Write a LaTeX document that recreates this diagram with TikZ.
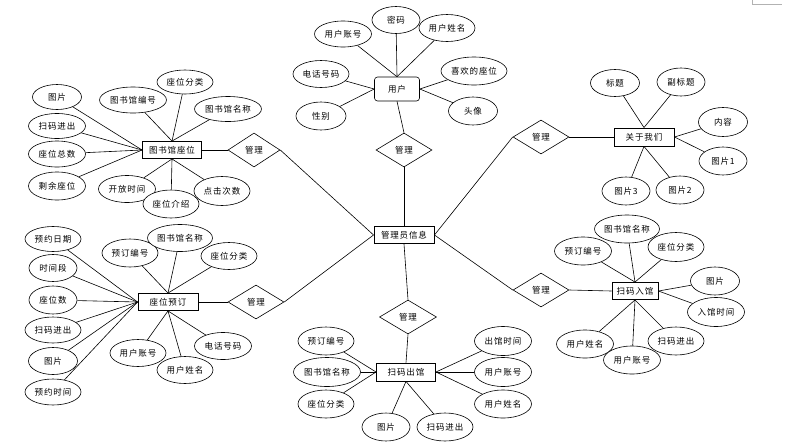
\documentclass[tikz,border=0pt]{standalone}
\usepackage{fontspec}
\newfontfamily\cjk[LetterSpace=10]{Noto Sans CJK SC}
\usetikzlibrary{shapes.geometric}
\begin{document}
\begin{tikzpicture}[x=1pt,y=-1pt,
  every node/.style={font=\cjk\fontsize{8.5}{10}\selectfont, text=black},
  ent/.style={draw, fill=white, line width=0.9pt, minimum width=59pt, minimum height=17pt, inner sep=0pt},
  attr/.style={draw, fill=white, ellipse, line width=0.6pt, minimum width=56pt, minimum height=27pt, inner sep=0pt},
  rel/.style={draw, fill=white, diamond, line width=0.6pt, minimum width=56pt, minimum height=34pt, inner sep=0pt},
  conn/.style={line width=0.6pt}]
\useasboundingbox (0,0) rectangle (809,445);
\draw[gray!60, line width=0.6pt] (752,0) -- (752,4) -- (782,4);

% ---- central
\node[ent, minimum width=60pt] (admin) at (404,235) {管理员信息};

% ---- user
\node[ent, rounded corners=3pt, line width=0.6pt, minimum width=45pt, minimum height=24pt] (yh) at (397,89) {用户};
\node[attr, minimum width=48pt] (u1) at (396,20) {密码};
\node[attr, minimum width=57pt, minimum height=26pt] (u2) at (343,34) {用户账号};
\node[attr] (u3) at (447,28) {用户姓名};
\node[attr] (u4) at (321,74) {电话号码};
\node[attr, minimum width=66pt, minimum height=28pt] (u5) at (474,71) {喜欢的座位};
\node[attr, minimum width=50pt, minimum height=28pt] (u6) at (321,116) {性别};
\node[attr, minimum width=49pt, minimum height=28pt] (u7) at (473,111) {头像};
\node[rel] (r1) at (404,150) {管理};
\foreach \n in {u1,u2,u3} \draw[conn] (\n) -- (yh.north);
\foreach \n in {u4,u6} \draw[conn] (\n) -- (yh.west);
\foreach \n in {u5,u7} \draw[conn] (\n) -- (yh.east);
\draw[conn] (yh.south) -- (r1.north);
\draw[conn] (r1.south) -- (admin.north);

% ---- library seat
\node[ent] (ls) at (172,150) {图书馆座位};
\node[rel, minimum width=52pt] (r2) at (254,150) {管理};
\node[attr, minimum width=49pt, minimum height=25pt] (a1) at (57,97) {图片};
\node[attr, minimum width=57pt, minimum height=25pt] (a2) at (57,126) {扫码进出};
\node[attr, minimum width=57pt, minimum height=26pt] (a3) at (57,154) {座位总数};
\node[attr, minimum width=57pt, minimum height=28pt] (a4) at (57,186) {剩余座位};
\node[attr, minimum width=67pt, minimum height=26pt] (a5) at (133,100) {图书馆编号};
\node[attr, minimum height=24pt] (a6) at (185,82) {座位分类};
\node[attr, minimum width=67pt, minimum height=25pt] (a7) at (228,109) {图书馆名称};
\node[attr, minimum width=57pt] (a8) at (127,189) {开放时间};
\node[attr, minimum height=28pt] (a9) at (171,204) {座位介绍};
\node[attr, minimum height=29pt] (a10) at (222,191) {点击次数};
\foreach \n in {a1,a2,a3,a4} \draw[conn] (\n) -- (ls.west);
\foreach \n in {a5,a6,a7} \draw[conn] (\n) -- (ls.north);
\foreach \n in {a8,a9,a10} \draw[conn] (\n) -- (ls.south);
\draw[conn] (ls.east) -- (r2.west);
\draw[conn] (r2.east) -- (admin.west);

% ---- seat reservation
\node[ent, minimum width=60pt] (sr) at (168,302) {座位预订};
\node[rel] (r3) at (256,302) {管理};
\node[attr, minimum height=25pt] (b1) at (53,239) {预约日期};
\node[attr, minimum width=48pt] (b2) at (53,268) {时间段};
\node[attr, minimum width=48pt, minimum height=28pt] (b3) at (53,300) {座位数};
\node[attr, minimum height=26pt] (b4) at (53,330) {扫码进出};
\node[attr, minimum width=49pt] (b5) at (53,361) {图片};
\node[attr, minimum height=26pt] (b6) at (53,392) {预约时间};
\node[attr, minimum height=28pt] (b7) at (130,253) {预订编号};
\node[attr, minimum width=65pt] (b8) at (180,238) {图书馆名称};
\node[attr] (b9) at (229,256) {座位分类};
\node[attr] (b10) at (138,353) {用户账号};
\node[attr] (b11) at (185,370) {用户姓名};
\node[attr, minimum width=57pt] (b12) at (223,346) {电话号码};
\foreach \n in {b1,b2,b3,b4,b5,b6} \draw[conn] (\n) -- (sr.west);
\foreach \n in {b7,b8,b9} \draw[conn] (\n) -- (sr.north);
\foreach \n in {b10,b11,b12} \draw[conn] (\n) -- (sr.south);
\draw[conn] (sr.east) -- (r3.west);
\draw[conn] (r3.east) -- (admin.west);

% ---- about us
\node[ent, minimum width=60pt, minimum height=18pt] (ab) at (644,137) {关于我们};
\node[rel] (r4) at (541,137) {管理};
\node[attr, minimum width=49pt] (c1) at (615,83) {标题};
\node[attr, minimum width=48pt, minimum height=28pt] (c2) at (681,82) {副标题};
\node[attr, minimum width=49pt, minimum height=29pt] (c3) at (723,122) {内容};
\node[attr, minimum width=48pt, minimum height=28pt] (c4) at (723,161) {图片1};
\node[attr, minimum width=48pt, minimum height=28pt] (c5) at (626,191) {图片3};
\node[attr, minimum width=48pt, minimum height=28pt] (c6) at (680,190) {图片2};
\foreach \n in {c1,c2} \draw[conn] (\n) -- (ab.north);
\foreach \n in {c3,c4} \draw[conn] (\n) -- (ab.east);
\foreach \n in {c5,c6} \draw[conn] (\n) -- (ab.south);
\draw[conn] (ab.west) -- (r4.east);
\draw[conn] (r4.west) -- (admin.east);

% ---- scan in
\node[ent, minimum width=46pt] (si) at (635,291) {扫码入馆};
\node[rel] (r5) at (541,290) {管理};
\node[attr, minimum width=65pt, minimum height=28pt] (d1) at (627,229) {图书馆名称};
\node[attr, minimum width=57pt, minimum height=28pt] (d2) at (583,251) {预订编号};
\node[attr, minimum height=29pt] (d3) at (676,247) {座位分类};
\node[attr, minimum width=49pt, minimum height=28pt] (d4) at (715,281) {图片};
\node[attr, minimum width=57pt, minimum height=29pt] (d5) at (716,312) {入馆时间};
\node[attr, minimum width=57pt, minimum height=28pt] (d6) at (585,344) {用户姓名};
\node[attr, minimum width=57pt, minimum height=28pt] (d7) at (632,360) {用户账号};
\node[attr, minimum height=28pt] (d8) at (676,341) {扫码进出};
\foreach \n in {d1,d2,d3} \draw[conn] (\n) -- (si.north);
\foreach \n in {d4,d5} \draw[conn] (\n) -- (si.east);
\foreach \n in {d6,d7,d8} \draw[conn] (\n) -- (si.south);
\draw[conn] (si.west) -- (r5.east);
\draw[conn] (r5.west) -- (admin.east);

% ---- scan out
\node[ent, minimum width=59pt, minimum height=18pt] (so) at (406,372) {扫码出馆};
\node[rel, minimum width=57pt] (r6) at (408,317) {管理};
\node[attr, minimum height=28pt] (e1) at (326,341) {预订编号};
\node[attr, minimum width=67pt, minimum height=29pt] (e2) at (327,372) {图书馆名称};
\node[attr, minimum height=28pt] (e3) at (326,404) {座位分类};
\node[attr, minimum width=48pt, minimum height=28pt] (e4) at (386,427) {图片};
\node[attr, minimum height=28pt] (e5) at (445,427) {扫码进出};
\node[attr, minimum width=57pt, minimum height=29pt] (e6) at (503,341) {出馆时间};
\node[attr, minimum width=57pt, minimum height=29pt] (e7) at (503,372) {用户账号};
\node[attr, minimum width=57pt, minimum height=28pt] (e8) at (503,404) {用户姓名};
\foreach \n in {e1,e2,e3} \draw[conn] (\n) -- (so.west);
\foreach \n in {e6,e7,e8} \draw[conn] (\n) -- (so.east);
\foreach \n in {e4,e5} \draw[conn] (\n) -- (so.south);
\draw[conn] (admin.south) -- (r6.north);
\draw[conn] (r6.south) -- (so.north);
\end{tikzpicture}
\end{document}
